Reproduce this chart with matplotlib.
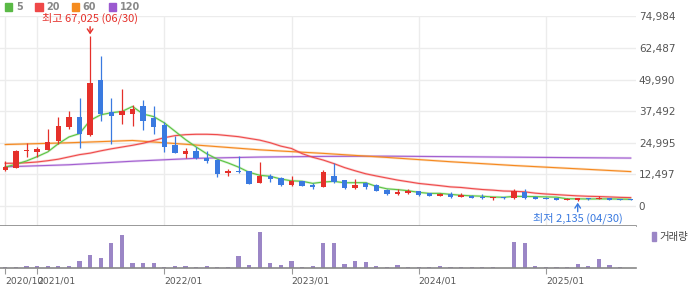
import numpy as np
import pandas as pd
import matplotlib
matplotlib.use("Agg")
import matplotlib.pyplot as plt
from matplotlib.patches import Patch

# 월봉 시가/고가/저가/종가 (2020/10 ~ 2025/09)
months = pd.period_range("2020-10", "2025-09", freq="M")
opens = [14350, 15140, 21600, 21470, 22260, 25810, 31110, 35180, 28070, 49810,
         37160, 36090, 36370, 39530, 34900, 32020, 24110, 20670, 21740, 19090,
         18300, 12930, 13950, 13720, 9210, 11980, 11070, 8420, 9880, 8420,
         7630, 11860, 10280, 7120, 8970, 8300, 6320, 4860, 5140, 5930,
         5020, 4070, 4740, 3680, 4070, 3680, 3160, 3440, 3160, 5530,
         3680, 3160, 3160, 2490, 2490, 2890, 2760, 3160, 2760, 2700]
highs = [17790, 22140, 24800, 23440, 30440, 35180, 37670, 42690, 67025, 59410,
         42690, 46250, 39930, 41900, 39530, 33320, 27670, 22930, 23440, 21620,
         18580, 14630, 19770, 13900, 17390, 12530, 11300, 11860, 10000, 9210,
         14110, 16880, 10400, 10550, 9400, 8600, 6600, 6600, 6600, 6000,
         5300, 5300, 5400, 5000, 4200, 4900, 3440, 3700, 6600, 6840,
         4000, 3500, 3200, 3100, 3300, 3100, 3830, 3200, 2800, 2750]
lows = [13950, 14900, 19250, 19250, 22260, 24510, 30560, 23050, 27790, 33720,
        24510, 32410, 31620, 30040, 28460, 21470, 20830, 18970, 18460, 17120,
        11580, 11980, 13160, 8700, 8970, 9610, 8100, 8020, 7900, 6720,
        7510, 9210, 6900, 6840, 6900, 5800, 4500, 4500, 4860, 4100,
        3900, 3900, 3200, 3500, 3200, 2900, 2490, 2900, 2890, 2890,
        2750, 2750, 2450, 2350, 2135, 2500, 2650, 2400, 2450, 2450]
closes = [15417, 21740, 21900, 22530, 25300, 31620, 35060, 28580, 48620, 36370,
          35700, 37550, 38460, 33720, 31230, 23440, 21070, 21860, 19090, 17790,
          12770, 13720, 13560, 8820, 11860, 10790, 8300, 10000, 8020, 7630,
          13440, 9610, 7230, 8180, 7630, 6050, 4860, 5650, 6050, 4350,
          4070, 4860, 3680, 4230, 3280, 3280, 3400, 3050, 6050, 3160,
          2890, 2890, 2490, 2890, 3000, 2640, 3040, 2490, 2490, 2500]
volumes = [170, 170, 230, 230, 230, 230, 230, 730, 1370, 1030,
           2530, 3330, 530, 530, 530, 170, 230, 230, 170, 230,
           170, 170, 1230, 330, 3630, 530, 330, 730, 170, 230,
           2530, 2530, 430, 730, 630, 230, 170, 330, 170, 170,
           170, 230, 170, 170, 170, 170, 170, 0, 2630, 2530,
           230, 170, 170, 170, 430, 230, 930, 330, 170, 0]

# 이동평균: 화면 앞쪽(이전 데이터 필요 구간)은 그림에서 읽은 값
ma5_head = [15400, 16500, 17800, 19500]
ma20_head = [16880, 16900, 17100, 17400, 17900, 18500, 19400, 20300, 20900, 21800,
             22600, 23300, 24000, 24800, 25900, 27000, 27800, 28200, 28350]
ma_idx = [0, 6, 12, 18, 24, 30, 36, 42, 48, 54, 59]
ma60 = [24300, 25000, 25900, 24100, 22200, 20800, 19200, 17500, 16000, 14700, 13600]
ma120 = [15500, 16300, 17700, 18850, 19350, 19600, 19700, 19500, 19300, 19100, 18950]

yticks = [0, 12497, 24995, 37492, 49990, 62487, 74984]
xtick_pos = [0, 3, 15, 27, 39, 51]
xtick_lab = ["2020/10", "2021/01", "2022/01", "2023/01", "2024/01", "2025/01"]

RED = "#e5302a"
BLUE = "#3a7ae0"
KR = ["Noto Sans CJK KR", "DejaVu Sans"]

idx = np.arange(len(months))
o = np.array(opens, float)
c = np.array(closes, float)
s = pd.Series(c)
ma5 = s.rolling(5).mean().to_numpy()
ma5[:4] = ma5_head
ma20 = s.rolling(20).mean().to_numpy()
ma20[:19] = ma20_head

fig = plt.figure(figsize=(7, 2.89), dpi=100)
ax = fig.add_axes([0, 0.219, 636 / 700, 0.7246])
axv = fig.add_axes([0, 0.0716, 636 / 700, 0.1474], sharex=ax)

# 이동평균선 (얇은 선 + 옅은 번짐)
for xs, ys, col in [(ma_idx, ma120, "#a35fd0"), (ma_idx, ma60, "#f5891f"),
                    (idx, ma20, "#ef4b4b"), (idx, ma5, "#5cc443")]:
    ax.plot(xs, ys, color=col, lw=1.8, alpha=0.25, zorder=2, solid_capstyle="round")
    ax.plot(xs, ys, color=col, lw=0.8, zorder=2)

# 캔들
cols = [RED if cc >= oo else BLUE for oo, cc in zip(o, c)]
ax.vlines(idx, lows, highs, colors=cols, lw=0.9, zorder=3)
body_h = np.maximum(np.abs(c - o), 450)
ax.bar(idx, body_h, bottom=np.minimum(o, c), width=0.52, color=cols, zorder=4)

ax.set_xlim(-0.5, 59.5)
ax.set_ylim(-7787, 74984)
ax.set_xticks(xtick_pos)
ax.set_yticks(yticks)
ax.set_yticklabels([f"{v:,}" for v in yticks])
ax.yaxis.tick_right()
ax.tick_params(axis="both", length=0)
ax.tick_params(axis="x", labelbottom=False)
ax.tick_params(axis="y", pad=2, labelsize=7.5, labelcolor="#555555")
ax.grid(color="#ececec", lw=1)
ax.set_axisbelow(True)
for sp in ["top", "left", "right"]:
    ax.spines[sp].set_visible(False)
ax.spines["bottom"].set_color("#888888")
ax.spines["bottom"].set_linewidth(1.2)

# 최고/최저 표시
hi_i = int(np.argmax(highs))
lo_i = int(np.argmin(lows))
ax.annotate("", xy=(hi_i, highs[hi_i]), xytext=(0, 7), textcoords="offset points",
            arrowprops=dict(arrowstyle="->,head_length=0.3,head_width=0.2", color=RED,
                            lw=1, shrinkA=0, shrinkB=1.5), annotation_clip=False)
ax.annotate("최고 67,025 (06/30)", xy=(hi_i, highs[hi_i]), xytext=(0, 13.2),
            textcoords="offset points", ha="center", va="center", color=RED,
            fontsize=8, family=KR, annotation_clip=False)
ax.annotate("", xy=(lo_i, lows[lo_i]), xytext=(0, -8), textcoords="offset points",
            arrowprops=dict(arrowstyle="->,head_length=0.3,head_width=0.2", color=BLUE,
                            lw=1, shrinkA=0, shrinkB=1.5), annotation_clip=False)
ax.annotate("최저 2,135 (04/30)", xy=(lo_i, lows[lo_i]), xytext=(0, -12.7),
            textcoords="offset points", ha="center", va="center", color=BLUE,
            fontsize=8, family=KR, annotation_clip=False)

# 상단 범례
leg = fig.legend(handles=[Patch(color="#5ab946", label="5"), Patch(color="#ef4848", label="20"),
                          Patch(color="#f58b1e", label="60"), Patch(color="#9b59d0", label="120")],
                 loc="upper left", bbox_to_anchor=(0.006, 0.995), ncol=4, frameon=False,
                 handlelength=0.75, handleheight=0.75, handletextpad=0.35, columnspacing=1.3,
                 prop=dict(size=7, weight="bold"), borderaxespad=0, borderpad=0.1)
for t in leg.get_texts():
    t.set_color("#888888")

# 거래량
axv.bar(idx, volumes, width=0.38, color="#9b86c6")
axv.set_ylim(0, max(volumes) * 42.6 / 36.3)
axv.set_yticks([])
axv.set_xticks(xtick_pos)
axv.set_xticklabels(xtick_lab)
for lbl in axv.get_xticklabels():
    lbl.set_horizontalalignment("left")
axv.tick_params(axis="x", length=4, color="#999999", labelsize=6.6, labelcolor="#555555", pad=2)
for sp in ["top", "left", "right"]:
    axv.spines[sp].set_visible(False)
axv.spines["bottom"].set_color("#888888")
axv.spines["bottom"].set_linewidth(1.2)

vleg = fig.legend(handles=[Patch(color="#9b86c6", label="거래량")], loc="upper left",
                  bbox_to_anchor=(652 / 700, 1 - 232 / 289), frameon=False,
                  handlelength=0.35, handleheight=1.0, handletextpad=0.35,
                  prop=dict(size=7.5, family=KR), borderaxespad=0, borderpad=0)
for t in vleg.get_texts():
    t.set_color("#444444")

fig.savefig("out.png", dpi=100)
